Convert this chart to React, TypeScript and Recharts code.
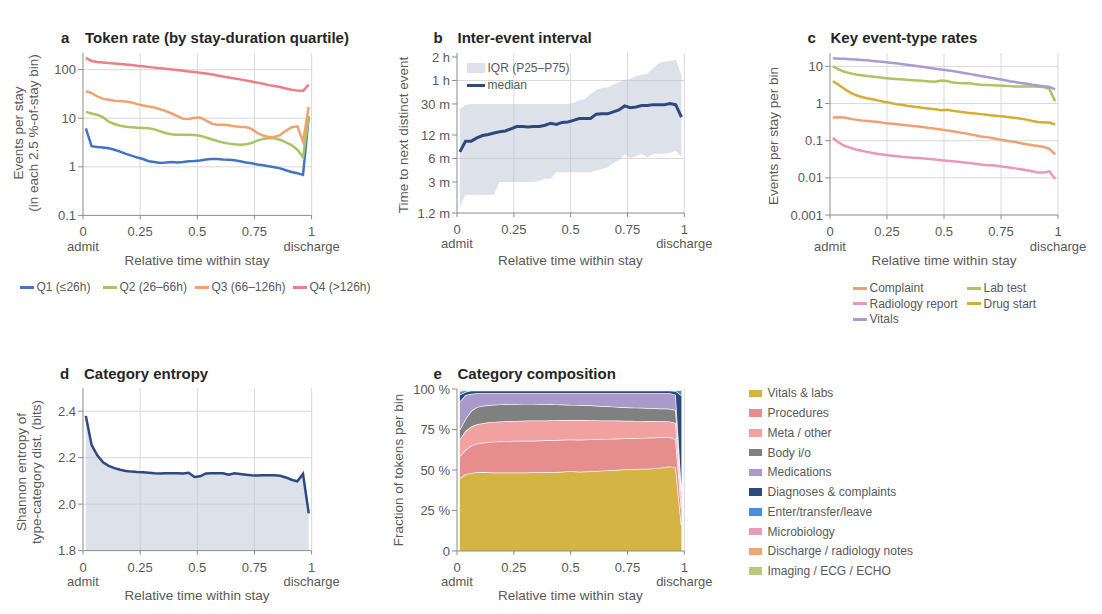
import React from 'react';
import { ComposedChart, Line, Area, XAxis, YAxis, CartesianGrid } from 'recharts';

// ---------- shared x categories (2.5 %-of-stay bin centres) ----------
const bins = [
  0.0125, 0.0375, 0.0625, 0.0875, 0.1125, 0.1375, 0.1625, 0.1875, 0.2125, 0.2375,
  0.2625, 0.2875, 0.3125, 0.3375, 0.3625, 0.3875, 0.4125, 0.4375, 0.4625, 0.4875,
  0.5125, 0.5375, 0.5625, 0.5875, 0.6125, 0.6375, 0.6625, 0.6875, 0.7125, 0.7375,
  0.7625, 0.7875, 0.8125, 0.8375, 0.8625, 0.8875, 0.9125, 0.9375, 0.9625, 0.9875,
];
const timeTicks = [0, 0.25, 0.5, 0.75, 1];

// ---------- panel a: token rate by quartile ----------
const q1Rate = [6.2, 2.65, 2.55, 2.5, 2.4, 2.25, 2.05, 1.85, 1.7, 1.55, 1.45, 1.3, 1.25, 1.2, 1.22, 1.25, 1.22, 1.25, 1.3, 1.32, 1.35, 1.42, 1.45, 1.45, 1.42, 1.4, 1.36, 1.3, 1.23, 1.18, 1.12, 1.08, 1.03, 0.98, 0.93, 0.85, 0.78, 0.74, 0.68, 11];
const q2Rate = [13.5, 12.5, 11.8, 10.5, 8.5, 7.6, 7.0, 6.7, 6.5, 6.4, 6.3, 6.2, 5.9, 5.4, 4.9, 4.7, 4.55, 4.55, 4.55, 4.5, 4.35, 4.0, 3.7, 3.4, 3.15, 3.0, 2.9, 2.85, 2.9, 3.1, 3.45, 3.75, 3.9, 3.85, 3.6, 3.2, 2.8, 2.25, 1.58, 11];
const q3Rate = [36, 33, 28, 25, 24, 23, 22.5, 22, 21, 19.5, 18.3, 17.5, 16.6, 15.3, 14, 12.5, 11, 9.8, 9.6, 10.2, 10.3, 9.0, 7.8, 7.3, 7.3, 7.2, 6.8, 6.6, 6.6, 6.0, 5.0, 4.4, 4.1, 4.1, 4.5, 5.5, 6.5, 6.8, 3.3, 17];
const q4Rate = [175, 150, 143, 140, 137, 134, 131, 128, 124, 120, 117, 113, 110, 107, 104, 101, 98, 95, 92, 89, 86, 83, 80, 76, 72, 69, 66, 63, 60, 57, 54, 51, 48, 46, 44, 41, 38.5, 37, 36.5, 49];
const rateTicks = [0.1, 1, 10, 100];

// ---------- panel b: inter-event interval (minutes) ----------
const medianMin = [7.3, 10.0, 10.0, 11.0, 11.8, 12.2, 12.7, 13.2, 13.5, 14.4, 15.4, 15.4, 15.2, 15.4, 15.4, 16.0, 17.0, 16.4, 17.4, 17.6, 18.5, 19.5, 19.5, 19.5, 22.2, 22.4, 22.4, 23.8, 25.2, 28.3, 26.8, 27.5, 28.6, 28.6, 29.4, 29.4, 29.4, 30.3, 29.2, 20.4];
const p25Min = [1.45, 2.05, 2.05, 2.05, 2.05, 2.05, 2.05, 3.0, 3.0, 3.0, 3.0, 3.0, 3.0, 3.0, 3.1, 3.3, 3.3, 4.0, 4.0, 4.0, 4.0, 4.0, 4.0, 4.0, 4.2, 4.4, 4.6, 5.2, 5.7, 6.8, 6.1, 6.4, 6.9, 6.2, 6.9, 6.9, 6.9, 7.1, 7.5, 6.3];
const p75Min = [26, 29, 30, 30, 30, 30, 30, 30, 30, 30, 30, 30, 30, 30, 30, 30, 30, 30, 30, 30, 31, 33.5, 35, 40, 45, 48, 49, 53, 57, 61, 63, 68, 71, 73, 86, 100, 105, 107, 111, 70];
const intervalTicks = [1.2, 3, 6, 12, 30, 60, 120];
const intervalLabels = ['1.2 m', '3 m', '6 m', '12 m', '30 m', '1 h', '2 h'];

// ---------- panel c: key event-type rates ----------
const complaintRate = [0.42, 0.43, 0.42, 0.39, 0.37, 0.35, 0.34, 0.33, 0.32, 0.30, 0.29, 0.28, 0.27, 0.26, 0.25, 0.24, 0.23, 0.22, 0.21, 0.2, 0.19, 0.18, 0.17, 0.16, 0.15, 0.14, 0.13, 0.125, 0.118, 0.11, 0.103, 0.097, 0.092, 0.086, 0.08, 0.076, 0.072, 0.068, 0.06, 0.043];
const labRate = [10.2, 8.3, 7.2, 6.6, 6.1, 5.8, 5.5, 5.3, 5.1, 4.9, 4.7, 4.6, 4.5, 4.35, 4.25, 4.15, 4.05, 3.95, 3.85, 4.2, 4.05, 3.7, 3.6, 3.55, 3.5, 3.3, 3.2, 3.15, 3.1, 3.05, 3.0, 2.95, 2.9, 2.88, 2.88, 2.9, 2.85, 2.8, 2.45, 1.15];
const radiologyRate = [0.12, 0.09, 0.073, 0.065, 0.058, 0.054, 0.05, 0.047, 0.044, 0.042, 0.04, 0.039, 0.037, 0.036, 0.035, 0.034, 0.033, 0.032, 0.031, 0.03, 0.029, 0.028, 0.027, 0.026, 0.025, 0.024, 0.023, 0.022, 0.022, 0.021, 0.02, 0.019, 0.018, 0.017, 0.016, 0.015, 0.014, 0.014, 0.015, 0.0093];
const drugRate = [4.0, 3.2, 2.5, 2.0, 1.7, 1.5, 1.4, 1.3, 1.2, 1.12, 1.05, 0.98, 0.93, 0.88, 0.84, 0.8, 0.76, 0.73, 0.7, 0.66, 0.68, 0.64, 0.61, 0.58, 0.56, 0.54, 0.52, 0.5, 0.48, 0.46, 0.45, 0.43, 0.41, 0.39, 0.37, 0.34, 0.32, 0.31, 0.31, 0.27];
const vitalsRate = [16.5, 16.2, 16.0, 15.7, 15.4, 15.0, 14.6, 14.1, 13.6, 13.1, 12.6, 12.1, 11.6, 11.1, 10.6, 10.1, 9.6, 9.1, 8.7, 8.3, 7.9, 7.5, 7.1, 6.7, 6.3, 5.9, 5.5, 5.2, 4.9, 4.6, 4.3, 4.0, 3.8, 3.6, 3.4, 3.2, 3.05, 2.95, 2.8, 2.4];
const typeRateTicks = [0.001, 0.01, 0.1, 1, 10];

// ---------- panel d: category entropy (bits) ----------
const entropyBits = [2.38, 2.255, 2.21, 2.18, 2.165, 2.155, 2.148, 2.143, 2.14, 2.138, 2.137, 2.135, 2.133, 2.132, 2.133, 2.133, 2.133, 2.132, 2.135, 2.117, 2.12, 2.132, 2.133, 2.133, 2.133, 2.127, 2.133, 2.13, 2.127, 2.124, 2.123, 2.124, 2.124, 2.124, 2.122, 2.115, 2.105, 2.098, 2.13, 1.96];
const entropyTicks = [1.8, 2.0, 2.2, 2.4];

// ---------- panel e: category composition (% of tokens) ----------
const vitalsLabsShare = [45, 47.3, 48.2, 48.6, 48.7, 48.6, 48.5, 48.4, 48.4, 48.5, 48.5, 48.5, 48.5, 48.6, 48.6, 48.6, 48.7, 48.7, 48.9, 49.3, 49.2, 48.9, 49.0, 49.2, 49.4, 49.6, 49.8, 50.0, 50.2, 50.4, 50.5, 50.6, 50.7, 50.8, 51.0, 51.3, 51.8, 52.2, 51.5, 16];
const proceduresShare = [13.5, 15.2, 16.8, 17.7, 18.1, 18.6, 19.0, 19.3, 19.4, 19.4, 19.5, 19.5, 19.5, 19.5, 19.6, 19.7, 19.7, 19.8, 19.7, 19.5, 19.6, 19.8, 19.8, 19.7, 19.6, 19.5, 19.4, 19.3, 19.2, 19.1, 19.1, 19.1, 19.1, 19.1, 19.0, 18.9, 18.6, 18.1, 17.5, 10];
const metaShare = [10.5, 11.5, 11.8, 11.9, 12.1, 12.2, 12.2, 12.2, 12.3, 12.3, 12.3, 12.4, 12.5, 12.4, 12.4, 12.3, 12.3, 12.2, 12.2, 12.0, 12.0, 12.1, 12.0, 11.8, 11.7, 11.5, 11.4, 11.2, 11.1, 10.9, 10.8, 10.6, 10.5, 10.3, 10.2, 9.9, 9.7, 9.7, 10.0, 8];
const bodyIoShare = [6, 7.5, 9.7, 10.6, 10.7, 10.6, 10.6, 10.6, 10.5, 10.5, 10.4, 10.4, 10.3, 10.3, 10.1, 10.1, 9.9, 9.8, 9.6, 9.5, 9.4, 9.3, 9.2, 9.2, 9.0, 8.9, 8.7, 8.6, 8.4, 8.3, 8.2, 8.2, 8.1, 8.1, 8.0, 7.9, 7.8, 7.8, 8.0, 3];
const medicationsShare = [17.3, 14.8, 10.5, 8.6, 7.8, 7.4, 7.1, 6.9, 6.8, 6.7, 6.7, 6.6, 6.6, 6.6, 6.7, 6.7, 6.8, 6.9, 7.0, 7.1, 7.2, 7.3, 7.4, 7.5, 7.7, 7.9, 8.1, 8.3, 8.5, 8.7, 8.8, 8.9, 9.0, 9.1, 9.2, 9.4, 9.5, 9.6, 9.5, 3];
const diagnosesShare = [4.2, 2.0, 2.0, 1.6, 1.6, 1.6, 1.6, 1.6, 1.6, 1.6, 1.6, 1.6, 1.6, 1.6, 1.6, 1.6, 1.6, 1.6, 1.6, 1.6, 1.6, 1.6, 1.6, 1.6, 1.6, 1.6, 1.6, 1.6, 1.6, 1.6, 1.6, 1.6, 1.6, 1.6, 1.6, 1.6, 1.6, 1.6, 2.3, 56];
const enterShare = [2.2, 1.0, 0.4, 0.4, 0.4, 0.4, 0.4, 0.4, 0.4, 0.4, 0.4, 0.4, 0.4, 0.4, 0.4, 0.4, 0.4, 0.4, 0.4, 0.4, 0.4, 0.4, 0.4, 0.4, 0.4, 0.4, 0.4, 0.4, 0.4, 0.4, 0.4, 0.4, 0.4, 0.4, 0.4, 0.4, 0.4, 0.4, 0.5, 3.4];
const microShare = [0.3, 0.15, 0.15, 0.15, 0.15, 0.15, 0.15, 0.15, 0.15, 0.15, 0.15, 0.15, 0.15, 0.15, 0.15, 0.15, 0.15, 0.15, 0.15, 0.15, 0.15, 0.15, 0.15, 0.15, 0.15, 0.15, 0.15, 0.15, 0.15, 0.15, 0.15, 0.15, 0.15, 0.15, 0.15, 0.15, 0.15, 0.15, 0.15, 0.15];
const notesShare = [0.6, 0.3, 0.3, 0.3, 0.3, 0.3, 0.3, 0.3, 0.3, 0.3, 0.3, 0.3, 0.3, 0.3, 0.3, 0.3, 0.3, 0.3, 0.3, 0.3, 0.3, 0.3, 0.3, 0.3, 0.3, 0.3, 0.3, 0.3, 0.3, 0.3, 0.3, 0.3, 0.3, 0.3, 0.3, 0.3, 0.3, 0.3, 0.3, 0.3];
const imagingShare = [0.4, 0.25, 0.15, 0.15, 0.15, 0.15, 0.15, 0.15, 0.15, 0.15, 0.15, 0.15, 0.15, 0.15, 0.15, 0.15, 0.15, 0.15, 0.15, 0.15, 0.15, 0.15, 0.15, 0.15, 0.15, 0.15, 0.15, 0.15, 0.15, 0.15, 0.15, 0.15, 0.15, 0.15, 0.15, 0.15, 0.15, 0.15, 0.25, 0.15];
const shareTicks = [0, 25, 50, 75, 100];

// ---------- styles ----------
const FONT = '"Liberation Sans", Arial, Helvetica, sans-serif';
const TXT = '#595959';
const TITLE = '#262626';
const AXIS = '#8c8c8c';
const GRID = '#d9d9d9';
const NAVY = '#2c4a7e';
const BAND = '#b9c3d6';

const rateSeries = [
  { key: 'q1', name: 'Q1 (≤26h)', color: '#4472c4' },
  { key: 'q2', name: 'Q2 (26–66h)', color: '#a9c563' },
  { key: 'q3', name: 'Q3 (66–126h)', color: '#f1a26f' },
  { key: 'q4', name: 'Q4 (>126h)', color: '#ea7f86' },
];
const typeSeries = [
  { key: 'complaint', name: 'Complaint', color: '#eea176' },
  { key: 'lab', name: 'Lab test', color: '#a9c663' },
  { key: 'radiology', name: 'Radiology report', color: '#eb98b8' },
  { key: 'drug', name: 'Drug start', color: '#d3ae36' },
  { key: 'vitals', name: 'Vitals', color: '#a99bd1' },
];
const shareSeries = [
  { key: 'vitalsLabs', name: 'Vitals & labs', color: '#d4b445' },
  { key: 'procedures', name: 'Procedures', color: '#e68d8d' },
  { key: 'meta', name: 'Meta / other', color: '#f2a1a1' },
  { key: 'bodyIo', name: 'Body i/o', color: '#808080' },
  { key: 'medications', name: 'Medications', color: '#a99aca' },
  { key: 'diagnoses', name: 'Diagnoses & complaints', color: '#2c4a7c' },
  { key: 'enter', name: 'Enter/transfer/leave', color: '#4a8fd9' },
  { key: 'micro', name: 'Microbiology', color: '#e89dba' },
  { key: 'notes', name: 'Discharge / radiology notes', color: '#eba97b' },
  { key: 'imaging', name: 'Imaging / ECG / ECHO', color: '#b4cc79' },
];

const rows = bins.map((t, i) => ({
  t,
  q1: q1Rate[i], q2: q2Rate[i], q3: q3Rate[i], q4: q4Rate[i],
  median: medianMin[i], p25: p25Min[i], p75: p75Min[i],
  complaint: complaintRate[i], lab: labRate[i], radiology: radiologyRate[i], drug: drugRate[i], vitals: vitalsRate[i],
  entropy: entropyBits[i],
  vitalsLabs: vitalsLabsShare[i], procedures: proceduresShare[i], meta: metaShare[i], bodyIo: bodyIoShare[i],
  medications: medicationsShare[i], diagnoses: diagnosesShare[i], enter: enterShare[i], micro: microShare[i],
  notes: notesShare[i], imaging: imagingShare[i],
}));

// ---------- helpers ----------
const YW = 90, MT = 10, MR = 40, XH = 45;
function frame(plotLeft: number, plotTop: number, plotW: number, plotH: number) {
  return {
    style: { position: 'absolute' as const, left: plotLeft - YW, top: plotTop - MT },
    width: YW + plotW + MR,
    height: MT + plotH + XH,
    margin: { top: MT, right: MR, left: 0, bottom: 0 },
  };
}

function TimeTick(props: any) {
  const { x, y, payload } = props;
  const v = payload.value as number;
  const sub = v === 0 ? 'admit' : v === 1 ? 'discharge' : '';
  return (
    <g>
      <text x={x} y={y + 10.5} textAnchor="middle" dominantBaseline="central" fontSize={13} fill={TXT} fontFamily={FONT}>{String(v)}</text>
      {sub ? <text x={x} y={y + 25} textAnchor="middle" dominantBaseline="central" fontSize={13} fill={TXT} fontFamily={FONT}>{sub}</text> : null}
    </g>
  );
}

const xAxisEl = (
  <XAxis
    dataKey="t" type="number" domain={[0, 1]} ticks={timeTicks} allowDataOverflow
    height={XH} axisLine={{ stroke: AXIS }} tickLine={{ stroke: AXIS }} tickSize={4} tick={<TimeTick />} interval={0}
  />
);

function yAxisProps(extra: any) {
  return {
    width: YW, axisLine: { stroke: AXIS }, tickLine: { stroke: AXIS }, tickSize: 5, tickMargin: 2,
    tick: { fill: TXT, fontSize: 13, fontFamily: FONT }, allowDataOverflow: true, type: 'number' as const, interval: 0 as const,
    ...extra,
  };
}

function Txt({ x, y, children, size = 13.5, bold = false, color = TXT, anchor = 'start', rotate = false }: any) {
  const tx = anchor === 'middle' ? '-50%' : anchor === 'end' ? '-100%' : '0';
  return (
    <div style={{
      position: 'absolute', left: x, top: y, whiteSpace: 'nowrap', fontSize: size, lineHeight: 1,
      fontWeight: bold ? 700 : 400, color, fontFamily: FONT,
      transform: rotate ? 'translate(-50%,-50%) rotate(-90deg)' : `translate(${tx},-50%)`,
    }}>{children}</div>
  );
}

function Title({ x, letterX, y, letter, text }: any) {
  return (
    <>
      <Txt x={letterX} y={y} size={15} bold color={TITLE}>{letter}</Txt>
      <Txt x={x} y={y} size={15} bold color={TITLE}>{text}</Txt>
    </>
  );
}

function LineKey({ x, y, color, label, w = 14 }: any) {
  return (
    <>
      <div style={{ position: 'absolute', left: x, top: y - 1.5, width: w, height: 3, background: color }} />
      <Txt x={x + w + 2.5} y={y} size={12}>{label}</Txt>
    </>
  );
}

export default function App() {
  const fa = frame(82.7, 53.3, 228.6, 162.4);
  const fb = frame(456.7, 53.3, 227.3, 160);
  const fc = frame(830, 53.3, 228, 162);
  const fd = frame(82.7, 388.4, 228.6, 162.6);
  const fe = frame(456.7, 389.3, 227.3, 162);
  const vLines = [0.25, 0.5, 0.75, 1];

  return (
    <div style={{ position: 'absolute', left: 0, top: 0, width: 1102, height: 614, background: '#fff', overflow: 'hidden', fontFamily: FONT }}>
      {/* ---------- a ---------- */}
      <div style={fa.style}>
        <ComposedChart width={fa.width} height={fa.height} data={rows} margin={fa.margin}>
          <CartesianGrid stroke={GRID} horizontalValues={[1, 10, 100]} verticalValues={vLines} />
          {xAxisEl}
          <YAxis {...yAxisProps({ scale: 'log', domain: [0.1, 220], ticks: rateTicks, tickFormatter: (v: number) => String(v) })} />
          {rateSeries.map((s) => (
            <Line key={s.key} dataKey={s.key} type="linear" stroke={s.color} strokeWidth={2.5} dot={false} activeDot={false} isAnimationActive={false} />
          ))}
        </ComposedChart>
      </div>
      <Title letterX={61} x={85} y={37} letter="a" text="Token rate (by stay-duration quartile)" />
      <Txt x={18.5} y={133} rotate>Events per stay</Txt>
      <Txt x={34} y={133} rotate>(in each 2.5 %-of-stay bin)</Txt>
      <Txt x={197} y={261} anchor="middle">Relative time within stay</Txt>
      <LineKey x={20} y={287} color={rateSeries[0].color} label={rateSeries[0].name} />
      <LineKey x={103} y={287} color={rateSeries[1].color} label={rateSeries[1].name} />
      <LineKey x={195} y={287} color={rateSeries[2].color} label={rateSeries[2].name} />
      <LineKey x={293} y={287} color={rateSeries[3].color} label={rateSeries[3].name} />

      {/* ---------- b ---------- */}
      <div style={fb.style}>
        <ComposedChart width={fb.width} height={fb.height} data={rows} margin={fb.margin}>
          <CartesianGrid stroke={GRID} horizontalValues={[6, 60]} verticalValues={vLines} />
          {xAxisEl}
          <YAxis {...yAxisProps({ scale: 'log', domain: [1.2, 135], ticks: intervalTicks, tickFormatter: (v: number) => intervalLabels[intervalTicks.indexOf(v)] ?? '' })} />
          <Area dataKey={(d: any) => [d.p25, d.p75]} type="linear" stroke="none" fill={BAND} fillOpacity={0.5} isAnimationActive={false} activeDot={false} />
          <Line dataKey="median" type="linear" stroke={NAVY} strokeWidth={3} dot={false} activeDot={false} isAnimationActive={false} />
        </ComposedChart>
      </div>
      <Title letterX={433.5} x={457.5} y={37} letter="b" text="Inter-event interval" />
      <Txt x={403.5} y={135} rotate>Time to next distinct event</Txt>
      <Txt x={570.3} y={260.7} anchor="middle">Relative time within stay</Txt>
      <div style={{ position: 'absolute', left: 466.7, top: 62.7, width: 18.3, height: 10, background: '#dce1ea' }} />
      <Txt x={487.5} y={68.3} size={12}>IQR (P25–P75)</Txt>
      <div style={{ position: 'absolute', left: 466.7, top: 83.5, width: 18.3, height: 3, background: NAVY }} />
      <Txt x={487.5} y={85} size={12}>median</Txt>

      {/* ---------- c ---------- */}
      <div style={fc.style}>
        <ComposedChart width={fc.width} height={fc.height} data={rows} margin={fc.margin}>
          <CartesianGrid stroke={GRID} horizontalValues={[0.01, 0.1, 1, 10]} verticalValues={vLines} />
          {xAxisEl}
          <YAxis {...yAxisProps({ scale: 'log', domain: [0.001, 23], ticks: typeRateTicks, tickFormatter: (v: number) => String(v) })} />
          {typeSeries.map((s) => (
            <Line key={s.key} dataKey={s.key} type="linear" stroke={s.color} strokeWidth={2.5} dot={false} activeDot={false} isAnimationActive={false} />
          ))}
        </ComposedChart>
      </div>
      <Title letterX={807.5} x={830.5} y={37} letter="c" text="Key event-type rates" />
      <Txt x={773.5} y={136} rotate>Events per stay per bin</Txt>
      <Txt x={944} y={260.7} anchor="middle">Relative time within stay</Txt>
      <LineKey x={853} y={288} color={typeSeries[0].color} label={typeSeries[0].name} />
      <LineKey x={967} y={288} color={typeSeries[1].color} label={typeSeries[1].name} />
      <LineKey x={853} y={303.5} color={typeSeries[2].color} label={typeSeries[2].name} />
      <LineKey x={967} y={303.5} color={typeSeries[3].color} label={typeSeries[3].name} />
      <LineKey x={853} y={319} color={typeSeries[4].color} label={typeSeries[4].name} />

      {/* ---------- d ---------- */}
      <div style={fd.style}>
        <ComposedChart width={fd.width} height={fd.height} data={rows} margin={fd.margin}>
          <CartesianGrid stroke={GRID} horizontalValues={[2.0, 2.2, 2.4]} verticalValues={vLines} />
          {xAxisEl}
          <YAxis {...yAxisProps({ domain: [1.8, 2.5], ticks: entropyTicks, tickFormatter: (v: number) => v.toFixed(1) })} />
          <Area dataKey="entropy" type="linear" baseValue={1.8} stroke={NAVY} strokeWidth={2.5} fill={BAND} fillOpacity={0.5} isAnimationActive={false} activeDot={false} />
        </ComposedChart>
      </div>
      <Title letterX={60} x={84} y={373.3} letter="d" text="Category entropy" />
      <Txt x={21.5} y={471.5} rotate>Shannon entropy of</Txt>
      <Txt x={37} y={471.5} rotate>type-category dist. (bits)</Txt>
      <Txt x={197} y={595.7} anchor="middle">Relative time within stay</Txt>

      {/* ---------- e ---------- */}
      <div style={fe.style}>
        <ComposedChart width={fe.width} height={fe.height} data={rows} margin={fe.margin}>
          <CartesianGrid stroke={GRID} horizontal={false} verticalValues={vLines} />
          {xAxisEl}
          <YAxis {...yAxisProps({ domain: [0, 100], ticks: shareTicks, tickFormatter: (v: number) => (v === 0 ? '0' : `${v} %`) })} />
          {shareSeries.map((s) => (
            <Area key={s.key} dataKey={s.key} stackId="e" type="linear" stroke="#ffffff" strokeWidth={1.4} fill={s.color} fillOpacity={1} isAnimationActive={false} activeDot={false} />
          ))}
        </ComposedChart>
      </div>
      <Title letterX={433.5} x={457.5} y={373.3} letter="e" text="Category composition" />
      <Txt x={398.5} y={470} rotate>Fraction of tokens per bin</Txt>
      <Txt x={570.3} y={595.7} anchor="middle">Relative time within stay</Txt>
      {shareSeries.map((s, i) => (
        <React.Fragment key={s.key}>
          <div style={{ position: 'absolute', left: 749, top: 393.3 + i * 19.75 - 3.8, width: 13.3, height: 7.6, background: s.color }} />
          <Txt x={767.5} y={393.3 + i * 19.75} size={12}>{s.name}</Txt>
        </React.Fragment>
      ))}
    </div>
  );
}
